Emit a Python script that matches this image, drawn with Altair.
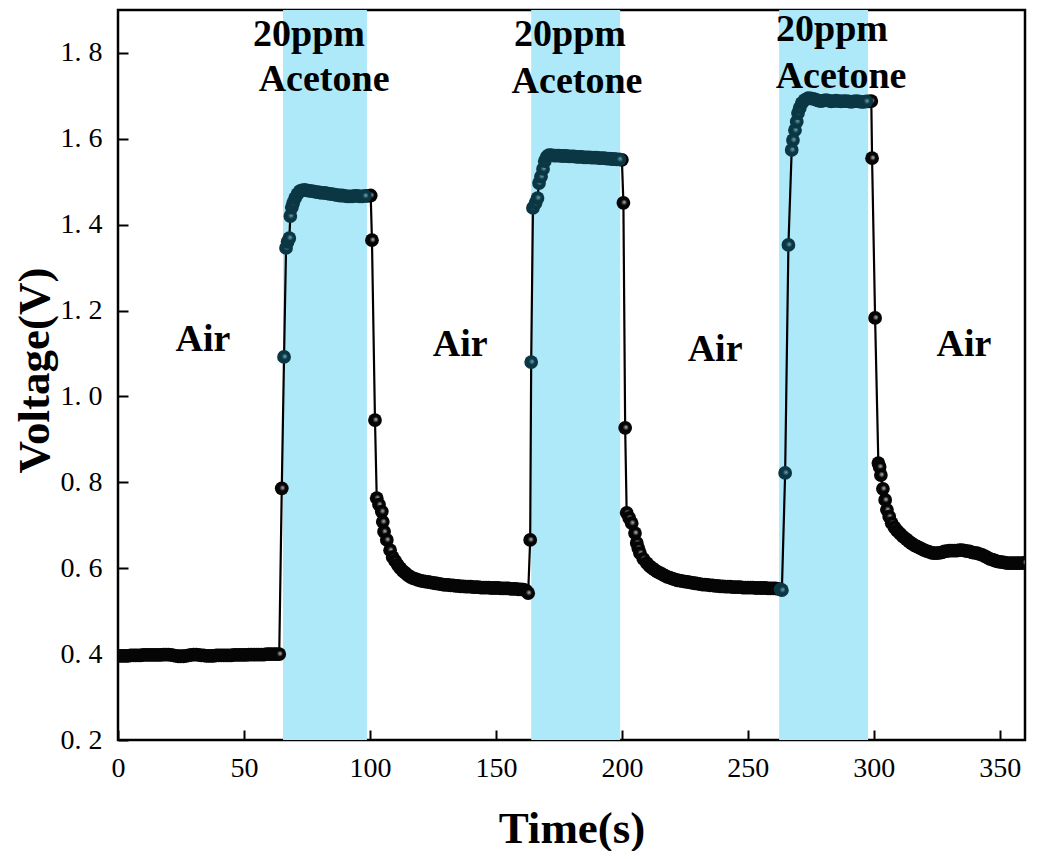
import altair as alt
import pandas as pd

# ---------------- data ----------------
time_air = [0, 1, 2, 3, 4, 5, 6, 7, 8, 9, 10, 11, 12, 13, 14, 15, 16, 17, 18, 19,
            20, 21, 22, 23, 24, 25, 26, 27, 28, 29, 30, 31, 32, 33, 34, 35, 36, 37, 38, 39,
            40, 41, 42, 43, 44, 45, 46, 47, 48, 49, 50, 51, 52, 53, 54, 55, 56, 57, 58, 59,
            60, 61, 62, 63, 64]
volt_air = [0.396, 0.396, 0.396, 0.396, 0.396, 0.397, 0.397, 0.397, 0.397, 0.397,
            0.398, 0.398, 0.398, 0.398, 0.398, 0.398, 0.398, 0.398, 0.399, 0.399,
            0.399, 0.398, 0.397, 0.396, 0.395, 0.395, 0.395, 0.396, 0.397, 0.398,
            0.399, 0.399, 0.398, 0.397, 0.397, 0.396, 0.396, 0.396, 0.396, 0.397,
            0.397, 0.397, 0.397, 0.397, 0.397, 0.397, 0.398, 0.398, 0.398, 0.398,
            0.398, 0.398, 0.399, 0.399, 0.399, 0.399, 0.399, 0.399, 0.399, 0.400,
            0.400, 0.400, 0.400, 0.400, 0.400]

time_cyc1 = [65.0, 65.9, 66.7, 67.3, 68.0, 68.4, 69.0, 69.5, 70.3, 71.2, 72.2,
             73, 74, 75, 76, 77, 78, 79, 80, 81, 82, 83, 84, 85, 86, 87, 88, 89, 90,
             91, 92, 93, 94, 95, 96, 97, 98, 99, 100.3,
             100.8, 102.0, 102.7, 103.6, 104.7, 105.1, 105.6, 106.7, 108.0,
             109, 110, 111, 112, 113, 114, 115, 116, 117, 118, 119, 120, 121, 122, 123,
             124, 125, 126, 127, 128, 129, 130, 131, 132, 133, 134, 135, 136, 137, 138,
             139, 140, 141, 142, 143, 144, 145, 146, 147, 148, 149, 150, 151, 152, 153,
             154, 155, 156, 157, 158, 159, 160, 161, 162, 162.8]
volt_cyc1 = [0.786, 1.092, 1.346, 1.360, 1.369, 1.420, 1.440, 1.450, 1.462, 1.471, 1.478,
             1.480, 1.481, 1.480, 1.479, 1.478, 1.477, 1.476, 1.475, 1.474, 1.474, 1.473,
             1.472, 1.471, 1.470, 1.469, 1.468, 1.468, 1.467, 1.466, 1.466, 1.466, 1.467,
             1.467, 1.466, 1.466, 1.467, 1.467, 1.468,
             1.364, 0.945, 0.763, 0.748, 0.732, 0.708, 0.685, 0.666, 0.642,
             0.626, 0.617, 0.608, 0.600, 0.594, 0.589, 0.584, 0.580, 0.577, 0.575, 0.573,
             0.571, 0.570, 0.569, 0.568, 0.567, 0.566, 0.565, 0.564, 0.563, 0.562, 0.561,
             0.561, 0.560, 0.560, 0.559, 0.559, 0.558, 0.558, 0.557, 0.557, 0.557, 0.556,
             0.556, 0.556, 0.555, 0.555, 0.555, 0.555, 0.554, 0.554, 0.554, 0.554, 0.553,
             0.553, 0.553, 0.553, 0.552, 0.552, 0.552, 0.551, 0.551, 0.550, 0.548, 0.542]

time_cyc2 = [163.6, 164.0, 164.7, 165.7, 166.5, 167.1, 167.9, 168.7, 169.4, 170.2, 171,
             172, 173, 174, 175, 176, 177, 178, 179, 180, 181, 182, 183, 184, 185, 186,
             187, 188, 189, 190, 191, 192, 193, 194, 195, 196, 197, 198, 199, 200.0,
             200.6, 201.3, 201.9, 202.9, 203.9, 205.2, 205.9, 206.5, 207.2, 208.5, 209.9,
             211, 212, 213, 214, 215, 216, 217, 218, 219, 220, 221, 222, 223, 224, 225,
             226, 227, 228, 229, 230, 231, 232, 233, 234, 235, 236, 237, 238, 239, 240,
             241, 242, 243, 244, 245, 246, 247, 248, 249, 250, 251, 252, 253, 254, 255,
             256, 257, 258, 259, 260, 261, 262, 263, 263.5]
volt_cyc2 = [0.666, 1.080, 1.439, 1.450, 1.462, 1.497, 1.512, 1.530, 1.548, 1.558, 1.562,
             1.562, 1.561, 1.561, 1.561, 1.560, 1.560, 1.560, 1.559, 1.559, 1.559, 1.558,
             1.558, 1.558, 1.557, 1.557, 1.557, 1.556, 1.556, 1.556, 1.555, 1.555, 1.555,
             1.554, 1.554, 1.553, 1.553, 1.552, 1.552, 1.551,
             1.451, 0.927, 0.729, 0.717, 0.705, 0.682, 0.659, 0.647, 0.635, 0.622, 0.612,
             0.605, 0.600, 0.596, 0.592, 0.589, 0.586, 0.583, 0.580, 0.578, 0.576, 0.574,
             0.572, 0.571, 0.570, 0.569, 0.568, 0.567, 0.566, 0.565, 0.564, 0.563, 0.562,
             0.562, 0.561, 0.560, 0.560, 0.559, 0.559, 0.558, 0.558, 0.557, 0.557, 0.557,
             0.556, 0.556, 0.556, 0.556, 0.555, 0.555, 0.555, 0.555, 0.555, 0.554, 0.554,
             0.554, 0.554, 0.554, 0.553, 0.553, 0.553, 0.553, 0.552, 0.551, 0.549]

time_cyc3 = [264.8, 266.1, 267.4, 267.9, 268.7, 269.4, 269.9, 270.6, 271.4, 272.5, 273.9,
             275, 276, 277, 278, 279, 280, 281, 282, 283, 284, 285, 286, 287, 288, 289,
             290, 291, 292, 293, 294, 295, 296, 297, 298, 299.0,
             299.3, 300.5, 301.8, 302.3, 302.8, 303.6, 304.5, 305.2, 306.1, 307.1, 308.2,
             309.3, 310.5, 311.7, 313, 314, 315, 316, 317, 318, 319, 320, 321, 322, 323,
             324, 325, 326, 327, 328, 329, 330, 331, 332, 333, 334, 335, 336, 337, 338,
             339, 340, 341, 342, 343, 344, 345, 346, 347, 348, 349, 350, 351, 352, 353,
             354, 355, 356, 357, 358, 359, 360]
volt_cyc3 = [0.822, 1.353, 1.574, 1.597, 1.620, 1.640, 1.660, 1.672, 1.683, 1.690, 1.695,
             1.694, 1.693, 1.691, 1.689, 1.688, 1.689, 1.690, 1.689, 1.687, 1.688, 1.689,
             1.688, 1.687, 1.688, 1.688, 1.687, 1.686, 1.687, 1.688, 1.687, 1.686, 1.686,
             1.687, 1.687, 1.688,
             1.555, 1.183, 0.845, 0.836, 0.817, 0.785, 0.759, 0.736, 0.720, 0.705, 0.695,
             0.687, 0.680, 0.673, 0.667, 0.662, 0.658, 0.654, 0.651, 0.648, 0.645, 0.642,
             0.640, 0.638, 0.636, 0.635, 0.635, 0.636, 0.637, 0.639, 0.640, 0.641, 0.641,
             0.641, 0.641, 0.642, 0.642, 0.641, 0.640, 0.639, 0.637, 0.636, 0.635, 0.633,
             0.631, 0.628, 0.625, 0.622, 0.620, 0.618, 0.616, 0.615, 0.614, 0.613, 0.612,
             0.612, 0.612, 0.612, 0.612, 0.612, 0.612, 0.613]

# acetone exposure windows (s)
gas_on = [65.5, 164.0, 262.4]
gas_off = [98.8, 199.3, 297.7]

# annotations
ann_text = ["Air", "20ppm", "Acetone", "Air", "20ppm", "Acetone",
            "Air", "20ppm", "Acetone", "Air"]
ann_t = [33.7, 75.8, 81.8, 135.8, 179.4, 182.2, 237.0, 283.4, 287.0, 335.8]
ann_v = [1.132, 1.842, 1.737, 1.120, 1.842, 1.732, 1.108, 1.853, 1.744, 1.120]

x_ticks = [0, 50, 100, 150, 200, 250, 300, 350]
y_ticks = [0.2, 0.4, 0.6, 0.8, 1.0, 1.2, 1.4, 1.6, 1.8]

# ---------------- tables ----------------
rows = []
for ts, vs in [(time_air, volt_air), (time_cyc1, volt_cyc1),
               (time_cyc2, volt_cyc2), (time_cyc3, volt_cyc3)]:
    rows += list(zip(ts, vs))
df = pd.DataFrame(rows, columns=["t", "v"])
df["gas"] = df["t"].apply(
    lambda t: any(a <= t <= b for a, b in zip(gas_on, gas_off)))

win = pd.DataFrame({"start": gas_on, "end": gas_off})
ann = pd.DataFrame({"label": ann_text, "t": ann_t, "v": ann_v})

SERIF = "Liberation Serif"
xscale = alt.Scale(domain=[0, 360], nice=False, zero=False)
yscale = alt.Scale(domain=[0.2, 1.9], nice=False, zero=False)

x_label_axis = alt.Axis(values=x_ticks, orient="bottom", ticks=False, domain=False,
                        grid=False, labelFont=SERIF, labelFontSize=28,
                        labelColor="black", labelPadding=14, labelFlush=False,
                        title="Time(s)", titleFont=SERIF, titleFontSize=45,
                        titleFontWeight="bold", titleColor="black",
                        titleX=453.5, titleY=88, titleBaseline="middle")
x_tick_axis = alt.Axis(values=x_ticks, orient="bottom", labels=False, domain=False,
                       grid=False, ticks=True, tickSize=10, tickWidth=2,
                       tickColor="black", offset=-10, title=None)
y_label_axis = alt.Axis(values=y_ticks, orient="left", ticks=False, domain=False,
                        grid=False, labelFont=SERIF, labelFontSize=28,
                        labelColor="black", labelPadding=16, labelFlush=False,
                        labelExpr="replace(format(datum.value, '.1f'), '.', '. ')",
                        title="Voltage(V)", titleFont=SERIF, titleFontSize=45,
                        titleFontWeight="bold", titleColor="black",
                        titleAngle=270, titleX=-84, titleY=360,
                        titleBaseline="middle", titleAlign="center")
y_tick_axis = alt.Axis(values=y_ticks, orient="left", labels=False, domain=False,
                       grid=False, ticks=True, tickSize=10, tickWidth=2,
                       tickColor="black", offset=-10, title=None)


def ball(center, edge):
    return alt.RadialGradient(
        gradient="radial",
        stops=[alt.GradientStop(offset=0, color=center),
               alt.GradientStop(offset=0.4, color=edge),
               alt.GradientStop(offset=1, color=edge)],
        x1=0.58, y1=0.45, r1=0, x2=0.5, y2=0.5, r2=0.55)


shade = alt.Chart(win).mark_rect(color="#aee9f9").encode(
    x=alt.X("start:Q", scale=xscale, axis=x_label_axis),
    x2="end:Q",
)

line = alt.Chart(df).mark_line(color="black", strokeWidth=2.2, clip=True).encode(
    x=alt.X("t:Q", scale=xscale, axis=x_tick_axis),
    y=alt.Y("v:Q", scale=yscale, axis=y_label_axis),
)

pts_air = alt.Chart(df).transform_filter("!datum.gas").mark_circle(
    size=190, opacity=1, fill=ball("#bcbcbc", "#050505"), clip=True
).encode(
    x=alt.X("t:Q", scale=xscale, axis=None),
    y=alt.Y("v:Q", scale=yscale, axis=y_tick_axis),
)

pts_gas = alt.Chart(df).transform_filter("datum.gas").mark_circle(
    size=190, opacity=1, fill=ball("#72a9b7", "#0b3644"), clip=True
).encode(
    x=alt.X("t:Q", scale=xscale, axis=None),
    y=alt.Y("v:Q", scale=yscale, axis=None),
)

labels = alt.Chart(ann).mark_text(
    font=SERIF, fontSize=38, fontWeight="bold", color="black",
    align="center", baseline="middle"
).encode(
    x=alt.X("t:Q", scale=xscale, axis=None),
    y=alt.Y("v:Q", scale=yscale, axis=None),
    text="label:N",
)

chart = alt.layer(shade, line, pts_air, pts_gas, labels).resolve_axis(
    x="independent", y="independent"
).properties(
    width=907, height=730,
    autosize=alt.AutoSizeParams(type="none"),
    padding={"left": 110, "top": 2, "right": 7, "bottom": 111},
    background="white",
).configure_view(stroke="black", strokeWidth=2.5)

chart.save("out.html", embed_options={"renderer": "svg", "actions": False})
